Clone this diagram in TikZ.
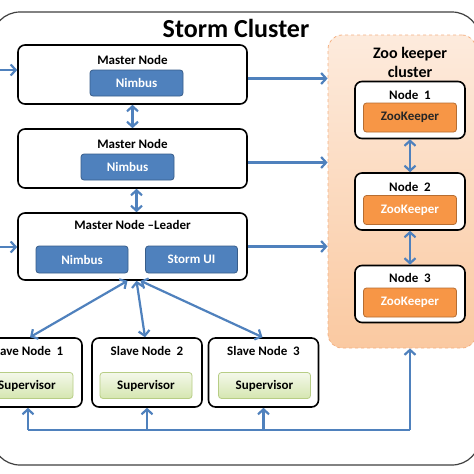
\documentclass[tikz,border=0pt]{standalone}
\usepackage{fontspec}
\setmainfont{Carlito}
\usetikzlibrary{positioning,arrows.meta}
\definecolor{stormblue}{HTML}{4F81BD}
\definecolor{stormedge}{HTML}{385D8A}
\definecolor{zkorange}{HTML}{F79646}
\definecolor{zkedge}{HTML}{B66D31}
\definecolor{zkdash}{HTML}{F4B183}
\definecolor{zktop}{HTML}{FDEBDD}
\definecolor{zkbottom}{HTML}{FAC9A1}
\definecolor{suptop}{HTML}{F4F8EA}
\definecolor{supbottom}{HTML}{D5E6B0}
\definecolor{supedge}{HTML}{B7CD85}
\definecolor{outline}{HTML}{404040}
\begin{document}
\begin{tikzpicture}[
    x=1pt, y=-1pt,
    master/.style={draw, line width=1.6pt, rounded corners=7pt, fill=white, minimum width=229pt, minimum height=59pt, inner sep=0pt},
    slave/.style={draw, line width=1.6pt, rounded corners=7pt, fill=white, minimum width=110pt, minimum height=69pt, inner sep=0pt},
    zknode/.style={draw, line width=1.6pt, rounded corners=7pt, fill=white, minimum width=110pt, minimum height=57pt, inner sep=0pt},
    lbl/.style={font=\fontsize{13}{15}\selectfont\bfseries, inner sep=0pt},
    nimbus/.style={draw=stormedge, line width=0.8pt, fill=stormblue, rounded corners=3pt, minimum width=93pt, minimum height=26pt, text=white, font=\fontsize{13}{15}\selectfont\bfseries},
    supbox/.style={draw=supedge, line width=0.8pt, top color=suptop, bottom color=supbottom, rounded corners=3pt, minimum width=92pt, minimum height=26pt, font=\fontsize{13}{15}\selectfont\bfseries},
    zkbox/.style={draw=zkedge, line width=0.8pt, fill=zkorange, rounded corners=3pt, minimum width=93pt, minimum height=29pt, text=white, font=\fontsize{13}{15}\selectfont\bfseries},
    zoobox/.style={draw=zkdash, dashed, line width=0.8pt, top color=zktop, bottom color=zkbottom, rounded corners=14pt, minimum width=148pt, minimum height=313pt},
    wire/.style={line width=2.2pt, draw=stormblue},
    arrow/.style={wire, -{Straight Barb[length=5pt,width=11pt]}},
    both/.style={wire, {Straight Barb[length=5pt,width=11pt]}-{Straight Barb[length=5pt,width=11pt]}}
]
    \useasboundingbox (0,0) rectangle (474,474);
    \clip (0,0) rectangle (474,474);
    \fill[white] (0,0) rectangle (474,474);

    % Cornice del cluster
    \draw[outline, line width=1.2pt, rounded corners=28pt] (-8,12) rectangle (480,465);
    \node[font=\fontsize{26}{30}\selectfont\bfseries] (title) at (236,28) {Storm Cluster};

    % Master nodes
    \node[master] (m1) at (132.5,74.5) {};
    \node[lbl] (m1lbl) at (132.5,60) {Master Node};
    \node[nimbus] (n1) at (136.5,83) {Nimbus};

    \node[master] (m2) at (132.5,158.5) {};
    \node[lbl] (m2lbl) at (132.5,144) {Master Node};
    \node[nimbus] (n2) at (127.5,167) {Nimbus};

    \node[master, minimum height=67pt] (ldr) at (132.5,246.5) {};
    \node[lbl] (ldrlbl) at (132.5,225) {Master Node \textendash Leader};
    \node[nimbus, minimum width=92pt, minimum height=27pt] (n3) at (82,259.5) {Nimbus};
    \node[nimbus, minimum width=92pt, minimum height=27pt] (ui) at (191.5,259.5) {Storm UI};

    % Slave nodes
    \node[slave] (sl1) at (27,372.5) {};
    \node[lbl] (sl1lbl) at (27,351) {Slave Node~~1};
    \node[supbox] (sup1) at (27,385.5) {Supervisor};

    \node[slave] (sl2) at (147,372.5) {};
    \node[lbl] (sl2lbl) at (147,351) {Slave Node~~2};
    \node[supbox] (sup2) at (146,385.5) {Supervisor};

    \node[slave] (sl3) at (263.5,372.5) {};
    \node[lbl] (sl3lbl) at (263.5,351) {Slave Node~~3};
    \node[supbox] (sup3) at (264.5,385.5) {Supervisor};

    % Zookeeper cluster
    \node[zoobox] (zoo) at (402,191.5) {};
    \node[font=\fontsize{16}{19}\selectfont\bfseries, align=center, inner sep=0pt] (zoolbl) at (410,62) {Zoo keeper\\cluster};

    \node[zknode] (z1) at (410,110) {};
    \node[lbl] (z1lbl) at (410,95) {Node~~1};
    \node[zkbox, text=black!85] (zk1) at (410,117.5) {ZooKeeper};

    \node[zknode] (z2) at (410,201.5) {};
    \node[lbl] (z2lbl) at (410,187) {Node~~2};
    \node[zkbox] (zk2) at (410,210) {ZooKeeper};

    \node[zknode] (z3) at (410,294) {};
    \node[lbl] (z3lbl) at (410,278) {Node~~3};
    \node[zkbox] (zk3) at (410,302.5) {ZooKeeper};

    % Frecce tra i nodi
    \draw[both] (m1) -- (m2);
    \draw[both] ([xshift=4pt]m2.south) -- ([xshift=4pt]ldr.north);
    \draw[both] (z1) -- (z2);
    \draw[both] (z2) -- (z3);

    \draw[both] ([xshift=-5pt]ldr.south) -- ([xshift=3pt]sl1.north);
    \draw[both] ([xshift=4pt]ldr.south) -- ([xshift=-2pt]sl2.north);
    \draw[both] ([xshift=8pt]ldr.south) -- ([xshift=-1pt]sl3.north);

    % Frecce in ingresso e verso Zookeeper
    \coordinate (in1) at (0,70);
    \coordinate (in3) at (0,247);
    \draw[arrow] (in1) -- (in1 -| m1.west);
    \draw[arrow] (in3) -- (in3 -| ldr.west);
    \draw[arrow] ([yshift=-4pt]m1.east) -- ([yshift=-4pt]m1.east -| zoo.west);
    \draw[arrow] ([yshift=-4pt]m2.east) -- ([yshift=-4pt]m2.east -| zoo.west);
    \draw[arrow] (ldr.east) -- (ldr.east -| zoo.west);

    % Bus in basso
    \coordinate (busL) at (28,430);
    \coordinate (busR) at (410,430);
    \draw[wire] (busL) -- (busR);
    \draw[arrow] (busL) -- (busL |- sl1.south);
    \draw[arrow] (sl2.south |- busL) -- (sl2.south);
    \draw[arrow] (sl3.south |- busL) -- (sl3.south);
    \draw[arrow] (busR) -- (busR |- zoo.south);

\end{tikzpicture}
\end{document}
